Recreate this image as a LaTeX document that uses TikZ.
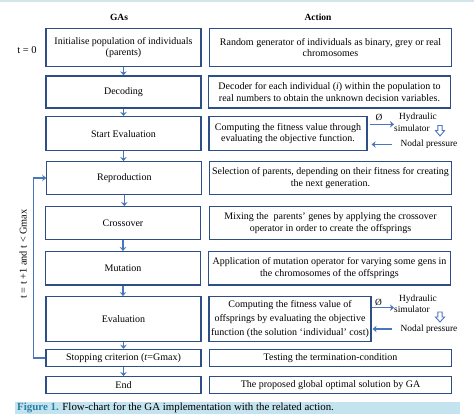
\documentclass[tikz,border=0pt]{standalone}
\usepackage{fontspec}
\setmainfont{Liberation Serif}
\usetikzlibrary{arrows.meta}
\definecolor{boxc}{HTML}{2E4E86}
\definecolor{arrc}{HTML}{4A76BC}
\definecolor{capbar}{HTML}{C3E3EE}
\definecolor{topband}{HTML}{D2E5EA}
\definecolor{figc}{HTML}{2A7FA6}
\tikzset{
  box/.style={draw=boxc, line width=1.25pt, rectangle, align=center, inner sep=1pt,
    font=\fontsize{10}{11.7}\selectfont},
  lbox/.style={box, minimum width=155pt},
  rbox/.style={box, minimum width=242pt},
  arr/.style={draw=arrc, line width=1.2pt, -{Stealth[length=4pt,width=6.5pt]}},
  lbl/.style={font=\fontsize{9.4}{11.5}\selectfont, inner sep=0pt},
  hollow/.style={draw=arrc, line width=0.9pt, fill=white},
}
\begin{document}
\begin{tikzpicture}[x=1pt,y=-1pt]
\useasboundingbox (0,0) rectangle (474,414);
\fill[topband] (0,0) rectangle (474,2.5);
% caption
\fill[capbar] (15,401.5) rectangle (460,414);
\node[anchor=west, inner sep=0pt, font=\fontsize{10.9}{12}\selectfont] (cap) at (17,408)
  {\textcolor{figc}{\bfseries Figure 1.} Flow-chart for the GA implementation with the related action.};
% headers
\node[font=\fontsize{9.5}{11}\selectfont\bfseries] (h1) at (119,17) {GAs};
\node[font=\fontsize{9.5}{11}\selectfont\bfseries] (h2) at (318,17) {Action};
\node[font=\fontsize{10.5}{12}\selectfont] (t0) at (27,50) {t = 0};
% left column
\node[lbox, minimum height=38pt] (l1) at (123.5,47.5) {Initialise population of individuals\\(parents)};
\node[lbox, minimum height=32pt] (l2) at (123.5,92) {Decoding};
\node[lbox, minimum height=34pt] (l3) at (123.5,133.6) {Start Evaluation};
\node[lbox, minimum height=32.6pt] (l4) at (124.3,178) {Reproduction};
\node[lbox, minimum height=32.6pt] (l5) at (123,223) {Crossover};
\node[lbox, minimum height=33.3pt] (l6) at (123,268.3) {Mutation};
\node[lbox, minimum height=45pt] (l7) at (123.5,319.2) {Evaluation};
\node[lbox, minimum height=17.2pt] (l8) at (123.5,358) {Stopping criterion (\textit{t}=Gmax)};
\node[lbox, minimum height=16.6pt] (l9) at (123.5,385) {End};
% right column
\node[rbox, minimum height=38pt] (r1) at (330.5,47.5) {Random generator of individuals as binary, grey or real\\chromosomes};
\node[rbox, minimum height=32pt] (r2) at (329.5,92) {Decoder for each individual (\textit{i}) within the population to\\real numbers to obtain the unknown decision variables.};
\node[box, minimum width=158pt, minimum height=34pt] (r3) at (288,133.6) {Computing the fitness value through\\evaluating the objective function.};
\node[rbox, minimum height=32.6pt] (r4) at (330.5,178) {Selection of parents, depending on their fitness for creating\\the next generation.};
\node[rbox, minimum height=32.6pt] (r5) at (330.5,223) {Mixing the\ \ parents' genes by applying the crossover\\operator in order to create the offsprings};
\node[rbox, minimum height=33.3pt] (r6) at (329.5,268.3) {Application of mutation operator for varying some gens in\\the chromosomes of the offsprings};
\node[box, minimum width=162pt, minimum height=45pt, font=\fontsize{10}{13.8}\selectfont] (r7) at (290,319.2) {Computing the fitness value of\\offsprings by evaluating the objective\\function (the solution `individual' cost)};
\node[rbox, minimum height=17.2pt] (r8) at (330.5,358) {Testing the termination-condition};
\node[rbox, minimum height=16.6pt] (r9) at (330.5,385) {The proposed global optimal solution by GA};
% vertical arrows
\foreach \a/\b in {l1/l2,l2/l3,l3/l4,l4/l5,l5/l6,l6/l7,l7/l8,l8/l9}
  \draw[arr] (\a.south) -- (\a.south |- \b.north);
% loop
\draw[arr] (l8.west) -- ++(-12,0) |- (l4.west);
\node[rotate=90, font=\fontsize{10.3}{12}\selectfont] (loop) at (23,254) {t = t +1 and t < Gmax};
% side simulators (start evaluation)
\node[lbl] (o1) at (379,117) {Ø};
\node[lbl, anchor=west, align=left] (hy1) at (394,122.5) {\hspace*{5pt}Hydraulic\\simulator};
\node[lbl, anchor=west] (np1) at (400.5,144.5) {Nodal pressure};
\coordinate (a1) at ([yshift=9.3pt]r3.east);
\draw[arr, shorten <=2pt] (a1) -- (a1 -| hy1.west);
\draw[arr, shorten >=4pt] ([xshift=-9pt]np1.west) -- (np1.west -| r3.east);
\draw[hollow] (437.9,125.5) -- (442.1,125.5) -- (442.1,130.5) -- (444.6,130.5) -- (440,136)
  -- (435.4,130.5) -- (437.9,130.5) -- cycle;
% side simulators (evaluation)
\node[lbl] (o2) at (378.5,302.5) {Ø};
\node[lbl, anchor=west, align=left] (hy2) at (394,304) {\hspace*{5pt}Hydraulic\\simulator};
\node[lbl, anchor=west] (np2) at (400.5,329) {Nodal pressure};
\coordinate (a2) at ([yshift=11.5pt]r7.east);
\draw[arr] (a2) -- (a2 -| hy2.west);
\draw[arr, shorten >=1pt] ([xshift=-9pt]np2.west) -- (np2.west -| r7.east);
\draw[hollow] (437.9,312) -- (442.1,312) -- (442.1,317) -- (444.6,317) -- (440,322)
  -- (435.4,317) -- (437.9,317) -- cycle;
\end{tikzpicture}
\end{document}
